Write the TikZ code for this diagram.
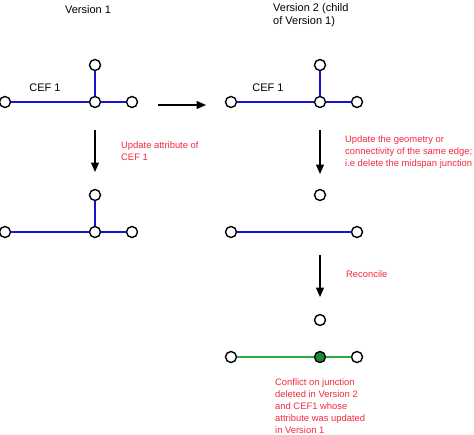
\documentclass[tikz,border=0pt]{standalone}
\usepackage{fontspec}
\setmainfont{Liberation Sans}
\usetikzlibrary{arrows.meta}
\definecolor{edgeblue}{RGB}{20,20,215}
\definecolor{edgegreen}{RGB}{40,170,70}
\definecolor{notered}{RGB}{245,40,60}
\tikzset{
  junc/.style={circle, draw, fill=white, line width=1.4pt, inner sep=0pt, minimum size=11pt},
  cef/.style={line width=2.8pt, edgeblue},
  step arrow/.style={line width=1.2pt, -{Triangle[length=9.5pt,width=8pt]}},
  note/.style={notered, font=\fontsize{9.4}{12}\selectfont, align=left, anchor=north west, inner sep=0pt},
  label text/.style={font=\fontsize{11}{13.5}\selectfont, inner sep=0pt}
}
\begin{document}
\begin{tikzpicture}[x=1pt, y=-1pt]
            \useasboundingbox (0,0) rectangle (474,434);
            % Version 1
            \node[label text] (v1) at (88,10) {Version 1};
            \node[junc] (a1) at (5,102) {}; \node[junc] (a2) at (95,102) {};
            \node[junc] (a3) at (132,102) {}; \node[junc] (a4) at (95,65) {};
            \draw[cef] (a1) -- (a2) -- (a3); \draw[cef] (a2) -- (a4);
            \node[label text] (c1) at (45,88) {CEF 1};
            \coordinate (s1) at (95,130); \coordinate (e1) at (95,172);
            \draw[step arrow] (s1) -- (e1);
            \node[note] (n1) at (121,141) {Update attribute of\\CEF 1};
            \node[junc] (b1) at (5,232) {}; \node[junc] (b2) at (95,232) {};
            \node[junc] (b3) at (132,232) {}; \node[junc] (b4) at (95,195) {};
            \draw[cef] (b1) -- (b2) -- (b3); \draw[cef] (b2) -- (b4);
            % Version 2
            \coordinate (s0) at (158,105); \coordinate (e0) at (206,105);
            \draw[step arrow] (s0) -- (e0);
            \node[label text, align=left, anchor=north west] (v2) at (273,3) {Version 2 (child\\of Version 1)};
            \node[junc] (p1) at (231,102) {}; \node[junc] (p2) at (320,102) {};
            \node[junc] (p3) at (357,102) {}; \node[junc] (p4) at (320,65) {};
            \draw[cef] (p1) -- (p2) -- (p3); \draw[cef] (p2) -- (p4);
            \node[label text] (c2) at (268,88) {CEF 1};
            \coordinate (s2) at (320,130); \coordinate (e2) at (320,174);
            \draw[step arrow] (s2) -- (e2);
            \node[note] (n2) at (345,135) {Update the geometry or\\connectivity of the same edge;\\i.e delete the midspan junction};
            \node[junc] (q1) at (231,232) {}; \node[junc] (q3) at (357,232) {};
            \node[junc] (q4) at (320,195) {};
            \draw[cef] (q1) -- (q3);
            \coordinate (s3) at (320,255); \coordinate (e3) at (320,297);
            \draw[step arrow] (s3) -- (e3);
            \node[note] (n3) at (346,270) {Reconcile};
            % reconciled result
            \node[junc] (r1) at (231,357) {}; \node[junc, fill=edgegreen!80!black] (r2) at (320,357) {};
            \node[junc] (r3) at (357,357) {}; \node[junc] (r4) at (320,320) {};
            \draw[line width=2.4pt, edgegreen] (r1) -- (r2) -- (r3);
            \node[note] (n4) at (275,378) {Conflict on junction\\deleted in Version 2\\and CEF1 whose\\attribute was updated\\in Version 1};
        \end{tikzpicture}
\end{document}
